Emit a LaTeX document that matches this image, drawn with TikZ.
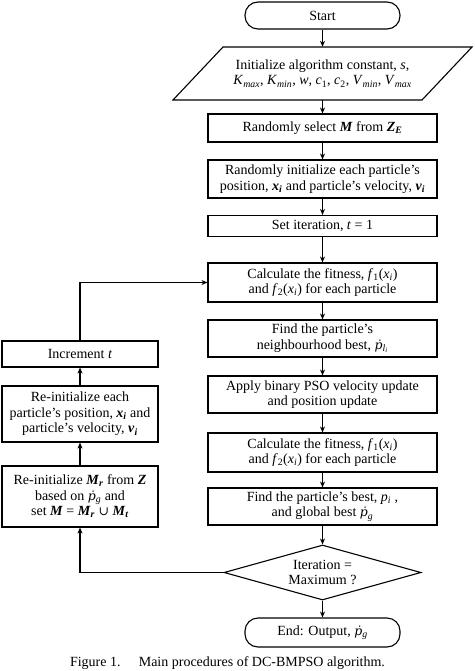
\documentclass[tikz,border=0pt]{standalone}
\usepackage{amsmath}
\usepackage{fontspec}
\setmainfont{Liberation Serif}
\newfontfamily\dvs{DejaVu Serif}
\usetikzlibrary{shapes.geometric,arrows.meta}
\newcommand{\iv}[1]{\textit{#1}}
\newcommand{\bv}[1]{\textbf{\textit{#1}}}
\newcommand{\isub}[1]{\textsubscript{\textit{#1}}}
\newcommand{\nsub}[1]{\textsubscript{#1}}
\newcommand{\bsub}[1]{\textsubscript{\textbf{\textit{#1}}}}
\newcommand{\pdot}{{\dvs\itshape\fontsize{12.5}{15.5}\selectfont ṗ}}
\newcommand{\uni}{{\dvs\fontsize{12.5}{15.5}\selectfont ∪}}
\begin{document}
\begin{tikzpicture}[x=1pt,y=-1pt,
  font=\fontsize{14}{15.5}\selectfont,
  lw/.style={line width=1.1pt},
  box/.style={draw, lw, minimum width=229pt, align=center, inner sep=1pt},
  lbox/.style={draw, lw, minimum width=156pt, align=center, inner sep=1pt},
  term/.style={draw, lw, rounded corners=13pt, minimum width=155pt, align=center},
  arr/.style={lw, -{Stealth[length=6pt,width=5pt]}},
]
\fill[white] (0,0) rectangle (474,671);
\useasboundingbox (0,0) rectangle (474,671);

\node[term, minimum height=27pt] (start) at (322.5,15.5) {Start};
\draw[lw] (223,47) -- (472,47) -- (422,100) -- (173,100) -- cycle;
\node[align=center, minimum width=200pt, minimum height=53pt, inner sep=0pt] (para) at (322.5,73.5)
  {Initialize algorithm constant, \iv{s},\\
   \iv{K}\isub{max}, \iv{K}\isub{min}, \iv{w}, \iv{c}\nsub{1}, \iv{c}\nsub{2}, \iv{V}\isub{min}, \iv{V}\isub{max}};
\node[box, minimum height=28pt] (select) at (322.5,128) {Randomly select \bv{M} from \bv{Z}\bsub{E}};
\node[box, minimum height=38pt] (init) at (322.5,179)
  {Randomly initialize each particle's\\position, \bv{x}\bsub{i} and particle's velocity, \bv{v}\bsub{i}};
\node[box, minimum height=21pt] (setit) at (322.5,226) {Set iteration, \iv{t} = 1};
\node[box, minimum height=39pt] (fit1) at (322.5,282.5)
  {Calculate the fitness, \iv{f}\nsub{1}(\iv{x}\isub{i})\\and \iv{f}\nsub{2}(\iv{x}\isub{i}) for each particle};
\node[box, minimum height=37pt] (nbest) at (322.5,338.5)
  {Find the particle's\\neighbourhood best, \pdot\isub{l\textsubscript{i}}};
\node[box, minimum height=37pt] (apply) at (322.5,394.5)
  {Apply binary PSO velocity update\\and position update};
\node[box, minimum height=39pt] (fit2) at (322.5,452.5)
  {Calculate the fitness, \iv{f}\nsub{1}(\iv{x}\isub{i})\\and \iv{f}\nsub{2}(\iv{x}\isub{i}) for each particle};
\node[box, minimum height=37pt] (best) at (322.5,506.5)
  {Find the particle's best, \iv{p}\isub{i} ,\\and global best \pdot\isub{g}};
\node[diamond, draw, lw, aspect=3.6, inner sep=0pt, minimum width=197pt, minimum height=55pt, align=center] (dec) at (322.5,572.5)
  {Iteration =\\Maximum ?};
\node[term, minimum height=29pt] (end) at (322.5,632.5) {End: Output, \pdot\isub{g}};

\node[lbox, minimum height=26pt] (inc) at (80,354) {Increment \iv{t}};
\node[lbox, minimum height=56pt] (reE) at (80,414)
  {Re-initialize each\\particle's position, \bv{x}\bsub{i} and\\particle's velocity, \bv{v}\bsub{i}};
\node[lbox, minimum height=61pt] (reM) at (80,496.5)
  {Re-initialize \bv{M}\bsub{r} from \bv{Z}\\based on \pdot\isub{g} and\\set \bv{M} = \bv{M}\bsub{r} \uni\ \bv{M}\bsub{t}};

\node[inner sep=0pt] (cap) at (227.5,663) {Figure 1.\hspace{1.3em}Main procedures of DC-BMPSO algorithm.};

\draw[arr] (start.south) -- (para.north);
\draw[arr] (para.south) -- (select.north);
\draw[arr] (select) -- (init);
\draw[arr] (init) -- (setit);
\draw[arr] (setit) -- (fit1);
\draw[arr] (fit1) -- (nbest);
\draw[arr] (nbest) -- (apply);
\draw[arr] (apply) -- (fit2);
\draw[arr] (fit2) -- (best);
\draw[arr] (best) -- (dec);
\draw[arr] (dec) -- (end);
\draw[arr] (dec.west) -| (reM.south);
\draw[arr] (reM) -- (reE);
\draw[arr] (reE) -- (inc);
\draw[arr] (inc.north) |- (fit1.west);
\end{tikzpicture}
\end{document}
